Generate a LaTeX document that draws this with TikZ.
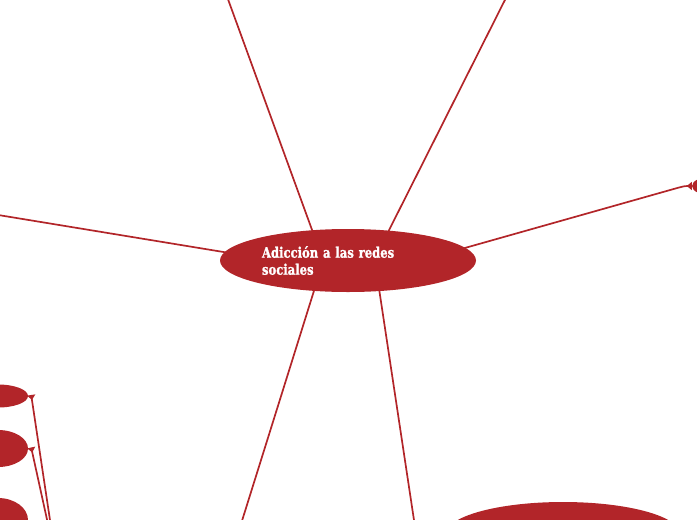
\documentclass[tikz,border=0pt]{standalone}
\usepackage{fontspec}
\newfontfamily\nodefont[FakeStretch=0.8,BoldFeatures={FakeBold=1.3}]{DejaVu Serif}
\usetikzlibrary{arrows.meta,shapes.geometric,backgrounds}
\definecolor{mmred}{RGB}{178,37,41}
\begin{document}
\begin{tikzpicture}[x=1pt,y=-1pt,
  link/.style={draw=mmred,line width=1.7pt},
  bubble/.style={ellipse,fill=mmred,draw=none,inner sep=0pt},
  endtip/.style={-{Triangle[reversed,length=5pt,width=8pt]}}]
\useasboundingbox (0,0) rectangle (697,520);
\clip (0,0) rectangle (697,520);
% main topic
\node[bubble,minimum width=256pt,minimum height=63pt,text width=172pt,align=left,
      text=white,font=\nodefont\bfseries\fontsize{14.5}{17}\selectfont]
      (c) at (348,260.5) {Adicción a las redes\\sociales};
% other topics (partly outside the picture)
\node[bubble,minimum width=40pt,minimum height=19pt] (r) at (712,186) {};
\node[bubble,minimum width=60pt,minimum height=23pt] (k1) at (-2,396) {};
\node[bubble,minimum width=60pt,minimum height=37pt] (k2) at (-2,448.5) {};
\node[bubble,minimum width=60pt,minimum height=44pt] (k3) at (-2,520) {};
\node[bubble,minimum width=234pt,minimum height=64pt] (br) at (563,534) {};
% connector end points
\coordinate (s1) at (323,260);
\coordinate (s2) at (374,260);
\coordinate (s3) at (260,258);
\coordinate (s4) at (440,255);
\coordinate (s5) at (323,262);
\coordinate (s6) at (375,262);
\coordinate (t1) at (221,-20);
\coordinate (t2) at (515,-20);
\coordinate (l1) at (-20,212);
\coordinate (b1) at (236,540);
\coordinate (b2) at (417,540);
\coordinate (p1) at (53,540);
\coordinate (p2) at (51.5,540);
\coordinate (bend) at (679,187.5);
\begin{scope}[on background layer]
\draw[link] (s1) -- (t1);
\draw[link] (s2) -- (t2);
\draw[link] (s3) -- (l1);
\draw[link] (s5) -- (b1);
\draw[link] (s6) -- (b2);
\draw[link,endtip] (s4) -- (bend) .. controls (685,186) .. (r.west);
\draw[link,endtip] (p1) -- ([xshift=3pt,yshift=1pt]k1.east);
\draw[link,endtip] (p2) -- ([xshift=3pt,yshift=1pt]k2.east);
\end{scope}
\end{tikzpicture}
\end{document}
